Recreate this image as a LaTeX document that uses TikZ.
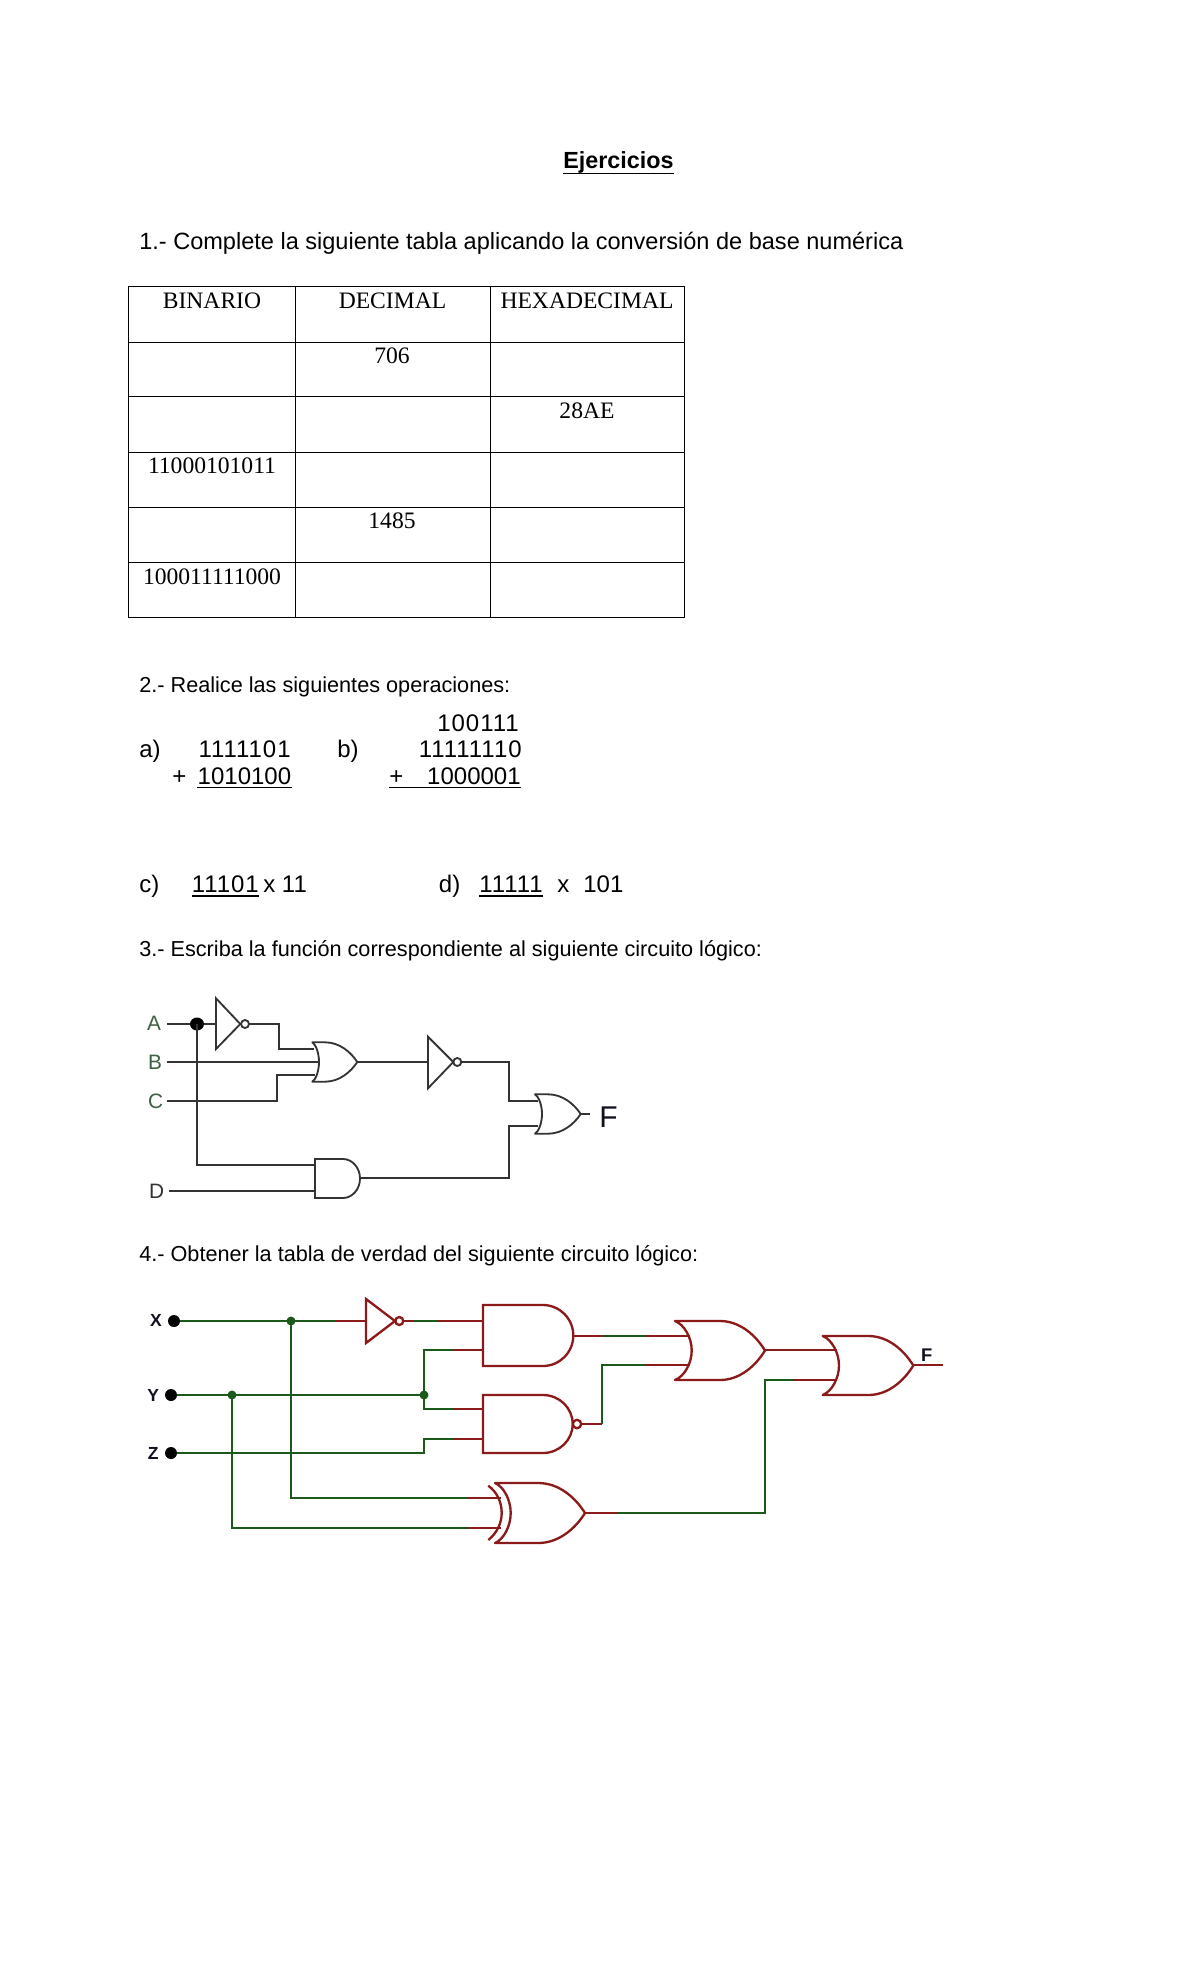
\documentclass[tikz,border=0pt]{standalone}
\usepackage{fontspec}
\setmainfont{Liberation Sans}
\newfontfamily\timesf{Liberation Serif}
\newfontfamily\digs[LetterSpace=4]{Liberation Sans}
\definecolor{gred}{HTML}{8B1A1A}
\definecolor{ggreen}{HTML}{1B5A1B}
\definecolor{wgray}{HTML}{333333}
\definecolor{lblgreen}{HTML}{3F5F45}
\definecolor{lblnavy}{HTML}{10101E}
\tikzset{
  x=0.6pt,y=-0.6pt,
  txt/.style={anchor=base west,inner sep=0pt,font=\fontsize{14.12}{17}\selectfont},
  txs/.style={anchor=base west,inner sep=0pt,font=\fontsize{13}{16}\selectfont},
  dgw/.style={anchor=base west,inner sep=0pt,font=\fontsize{14.4}{17}\selectfont},
  dge/.style={anchor=base east,inner sep=0pt,font=\fontsize{14.4}{17}\selectfont},
  dsw/.style={anchor=base west,inner sep=0pt,font=\digs\fontsize{14.4}{17}\selectfont},
  dse/.style={anchor=base east,inner sep=0pt,font=\digs\fontsize{14.4}{17}\selectfont},
  ttl/.style={anchor=base west,inner sep=0pt,font=\bfseries\fontsize{14}{17}\selectfont},
  cell/.style={anchor=base,inner sep=0pt,font=\timesf\fontsize{14.15}{17}\selectfont},
  tab/.style={line width=0.8pt,black},
  ul/.style={line width=0.8pt,black},
  ca/.style={line width=1.1pt,wgray},
  rr/.style={line width=1.4pt,gred},
  gg/.style={line width=1.4pt,ggreen,line join=miter},
  lbl/.style={inner sep=0pt,font=\fontsize{12.5}{15}\selectfont},
  lbb/.style={inner sep=0pt,text=lblnavy,font=\bfseries\fontsize{10.5}{13}\selectfont},
}
\newcommand{\orshape}[7]{% style, L, T, B, F, A, X
  \pgfmathsetmacro{\mY}{(#3+#4)/2}
  \pgfmathsetmacro{\hH}{(#4-#3)}
  \pgfmathsetmacro{\cA}{#5+0.45*(#6-#5)}
  \pgfmathsetmacro{\cB}{#6-0.2*(#6-#5)}
  \pgfmathsetmacro{\yA}{\mY-0.25*\hH}
  \pgfmathsetmacro{\yB}{\mY+0.25*\hH}
  \pgfmathsetmacro{\yC}{\mY-0.22*\hH}
  \pgfmathsetmacro{\yD}{\mY+0.22*\hH}
  \pgfmathsetmacro{\bA}{#2+0.55*(#7-#2)}
  \draw[#1,line join=round] (#2,#3) -- (#5,#3) .. controls (\cA,#3) and (\cB,\yA) .. (#6,\mY)
    .. controls (\cB,\yB) and (\cA,#4) .. (#5,#4) -- (#2,#4)
    .. controls (\bA,#4-0.06*\hH) and (#7,\yD) .. (#7,\mY)
    .. controls (#7,\yC) and (\bA,#3+0.06*\hH) .. cycle;
}
\newcommand{\andshape}[6]{% style, L, T, B, F, A
  \pgfmathsetmacro{\mY}{(#3+#4)/2}
  \pgfmathsetmacro{\kA}{#5+0.55*(#6-#5)}
  \pgfmathsetmacro{\kB}{\mY-0.275*(#4-#3)}
  \pgfmathsetmacro{\kC}{\mY+0.275*(#4-#3)}
  \draw[#1,line join=miter] (#2,#3) -- (#5,#3) .. controls (\kA,#3) and (#6,\kB) .. (#6,\mY)
    .. controls (#6,\kC) and (\kA,#4) .. (#5,#4) -- (#2,#4) -- cycle;
}
\begin{document}
\begin{tikzpicture}
\useasboundingbox (0,0) rectangle (1200,1976);
\fill[white] (0,0) rectangle (1200,1976);

% ---- headings
\node[ttl] (title) at (563,168.7) {Ejercicios};
\draw[line width=1.1pt] ([yshift=-2.9pt]title.base west) -- ([yshift=-2.9pt]title.base east);
\node[txt] (q1) at (139,249.3) {1.- Complete la siguiente tabla aplicando la conversión de base numérica};

% ---- table
\foreach \yy in {286.5,342.5,396.5,452.5,507.5,562.5,617.5}
  \draw[tab] (128,\yy) -- (685,\yy);
\foreach \xx in {128.5,295.5,490.5,684.5}
  \draw[tab] (\xx,286) -- (\xx,618);
\node[cell] (h1) at (212,308.3) {BINARIO};
\node[cell] (h2) at (392.5,308.3) {DECIMAL};
\node[cell] (h3) at (587,308.3) {HEXADECIMAL};
\node[cell] (c706) at (392,363.5) {706};
\node[cell] (c28) at (587,418) {28AE};
\node[cell] (cb1) at (212,473.5) {11000101011};
\node[cell] (c14) at (392,528.5) {1485};
\node[cell] (cb2) at (212,584) {100011111000};

% ---- section 2
\node[txs] (q2) at (139,692.2) {2.- Realice las siguientes operaciones:};
\node[dse] (bl1) at (519,731) {100111};
\node[dgw] (pa) at (139,757) {a)};
\node[dse] (a1) at (291,757) {1111101};
\node[dgw] (pb) at (337,757) {b)};
\node[dse] (bl2) at (522,757) {11111110};
\node[dgw] (ap) at (172,784) {+};
\node[dge] (a2) at (291.5,784) {1010100};
\draw[ul] ([yshift=-1.9pt]a2.base west) -- ([yshift=-1.9pt]a2.base east);
\node[dgw] (bp) at (389,784) {+};
\node[dge] (bl3) at (521,784) {1000001};
\draw[ul] ([yshift=-1.9pt]bp.base west) -- ([yshift=-1.9pt]bl3.base east);
\node[dgw] (pc) at (139,892.7) {c)};
\node[dsw] (c1) at (191.5,892.7) {11101};
\draw[ul] ([yshift=-1.9pt]c1.base west) -- ([yshift=-1.9pt]c1.base east);
\node[dgw] (c2) at (263,892.7) {x 11};
\node[dgw] (pd) at (438.6,892.7) {d)};
\node[dsw] (d1) at (479,892.7) {11111};
\draw[ul] ([yshift=-1.9pt]d1.base west) -- ([yshift=-1.9pt]d1.base east);
\node[dgw] (d2) at (557,892.7) {x};
\node[dgw] (d3) at (583,892.7) {101};
\node[txs] (q3) at (139,956.5) {3.- Escriba la función correspondiente al siguiente circuito lógico:};
\node[txs] (q4) at (139,1261) {4.- Obtener la tabla de verdad del siguiente circuito lógico:};

% ---- circuit 1
\node[lbl,text=lblgreen] (lA) at (154,1023) {A};
\node[lbl,text=lblgreen] (lB) at (155,1062) {B};
\node[lbl,text=lblgreen] (lC) at (155.7,1101) {C};
\node[lbl,text=wgray] (lD) at (156.7,1191) {D};
\coordinate (aS) at (167,1024);
\coordinate (bS) at (167,1062);
\coordinate (cS) at (167,1101);
\coordinate (dS) at (169,1191);
\coordinate (jA) at (197,1024);
\draw[ca] (aS) -- (216,1024);
\fill[black] (jA) ellipse [x radius=7,y radius=6.5];
\draw[ca,line join=miter] (216,998.3) -- (240.3,1024) -- (216,1049) -- cycle;
\draw[ca] (245,1024) circle [radius=4];
\draw[ca] (249,1024) -- (279,1024) -- (279,1049) -- (314,1049);
\draw[ca] (bS) -- (319,1062);
\draw[ca] (cS) -- (277,1101) -- (277,1075) -- (315,1075);
\orshape{ca}{312.3}{1042.3}{1081.7}{325}{357.3}{319}
\draw[ca] (357.3,1062) -- (428,1062);
\draw[ca,line join=miter] (428,1036.7) -- (453.3,1062) -- (428,1088.3) -- cycle;
\draw[ca] (457.3,1062) circle [radius=4];
\draw[ca] (461.5,1062) -- (509,1062) -- (509,1101) -- (538,1101);
\orshape{ca}{535}{1094.3}{1133.7}{548}{580.7}{542}
\draw[ca] (580.7,1114) -- (590,1114);
\draw[ca] (538,1126) -- (509,1126) -- (509,1178) -- (360,1178);
\andshape{ca}{315}{1159}{1198}{343}{360}
\draw[ca] (jA) -- (197,1165) -- (315,1165);
\draw[ca] (dS) -- (315,1191);
\node[inner sep=0pt,text=lblnavy,font=\fontsize{18}{20}\selectfont] (lF) at (608.5,1116.7) {F};

% ---- circuit 2
\node[lbb] (lX) at (156,1320) {X};
\node[lbb] (lY) at (153.3,1395) {Y};
\node[lbb] (lZ) at (153.3,1453.3) {Z};
\node[lbb,font=\bfseries\fontsize{11}{13}\selectfont] (lF2) at (926.7,1355) {F};
\coordinate (jX) at (291,1321);
\coordinate (jY) at (232,1395);
\coordinate (jY2) at (424,1395);
% green wires
\draw[gg] (174,1321) -- (335,1321);
\draw[gg] (171,1395) -- (jY2);
\draw[gg] (171,1453) -- (424,1453) -- (424,1439) -- (453,1439);
\draw[gg] (453,1350) -- (424,1350) -- (424,1409) -- (453,1409);
\draw[gg] (jX) -- (291,1498) -- (468,1498);
\draw[gg] (jY) -- (232,1528) -- (468,1528);
\draw[gg] (413,1321) -- (437,1321);
\draw[gg] (603,1336) -- (645,1336);
\draw[gg] (602,1424) -- (602,1365) -- (645,1365);
\draw[gg] (618,1513) -- (765,1513) -- (765,1380) -- (793,1380);
% red wires
\draw[rr] (335,1321) -- (366,1321);
\draw[rr] (403.5,1321) -- (413,1321);
\draw[rr] (437,1321) -- (483,1321);
\draw[rr] (453,1350) -- (483,1350);
\draw[rr] (453,1409) -- (483,1409);
\draw[rr] (453,1439) -- (483,1439);
\draw[rr] (468,1498) -- (501,1498);
\draw[rr] (468,1528) -- (501,1528);
\draw[rr] (573,1336) -- (603,1336);
\draw[rr] (645,1336) -- (690,1336);
\draw[rr] (645,1365) -- (690,1365);
\draw[rr] (581.5,1424) -- (602,1424);
\draw[rr] (585,1513) -- (618,1513);
\draw[rr] (765,1350) -- (837,1350);
\draw[rr] (793,1380) -- (837,1380);
\draw[rr] (913.3,1365) -- (943,1365);
% gates
\draw[rr,line join=miter] (366,1299) -- (395,1321) -- (366,1343) -- cycle;
\draw[rr] (399.3,1321) circle [radius=4];
\andshape{rr}{483}{1305}{1366}{543}{573.3}
\andshape{rr}{483}{1395}{1453}{543}{572.7}
\draw[rr] (577,1424) circle [radius=4.2];
\orshape{rr}{675}{1321}{1380}{720}{765}{691.7}
\orshape{rr}{822.7}{1336}{1395}{868.3}{913.3}{839}
\orshape{rr}{495}{1483}{1543}{538.3}{585}{510.7}
\draw[rr] (488.3,1485.7) .. controls (497,1492) and (501.7,1502) .. (501.7,1513)
  .. controls (501.7,1523) and (497,1533) .. (488.3,1540);
% dots
\fill[black] (174,1321) circle [radius=6];
\fill[black] (171,1395) circle [radius=6];
\fill[black] (171,1453) circle [radius=6];
\fill[ggreen] (jX) circle [radius=4.5];
\fill[ggreen] (jY) circle [radius=4.5];
\fill[ggreen] (jY2) circle [radius=4.5];
\end{tikzpicture}
\end{document}
